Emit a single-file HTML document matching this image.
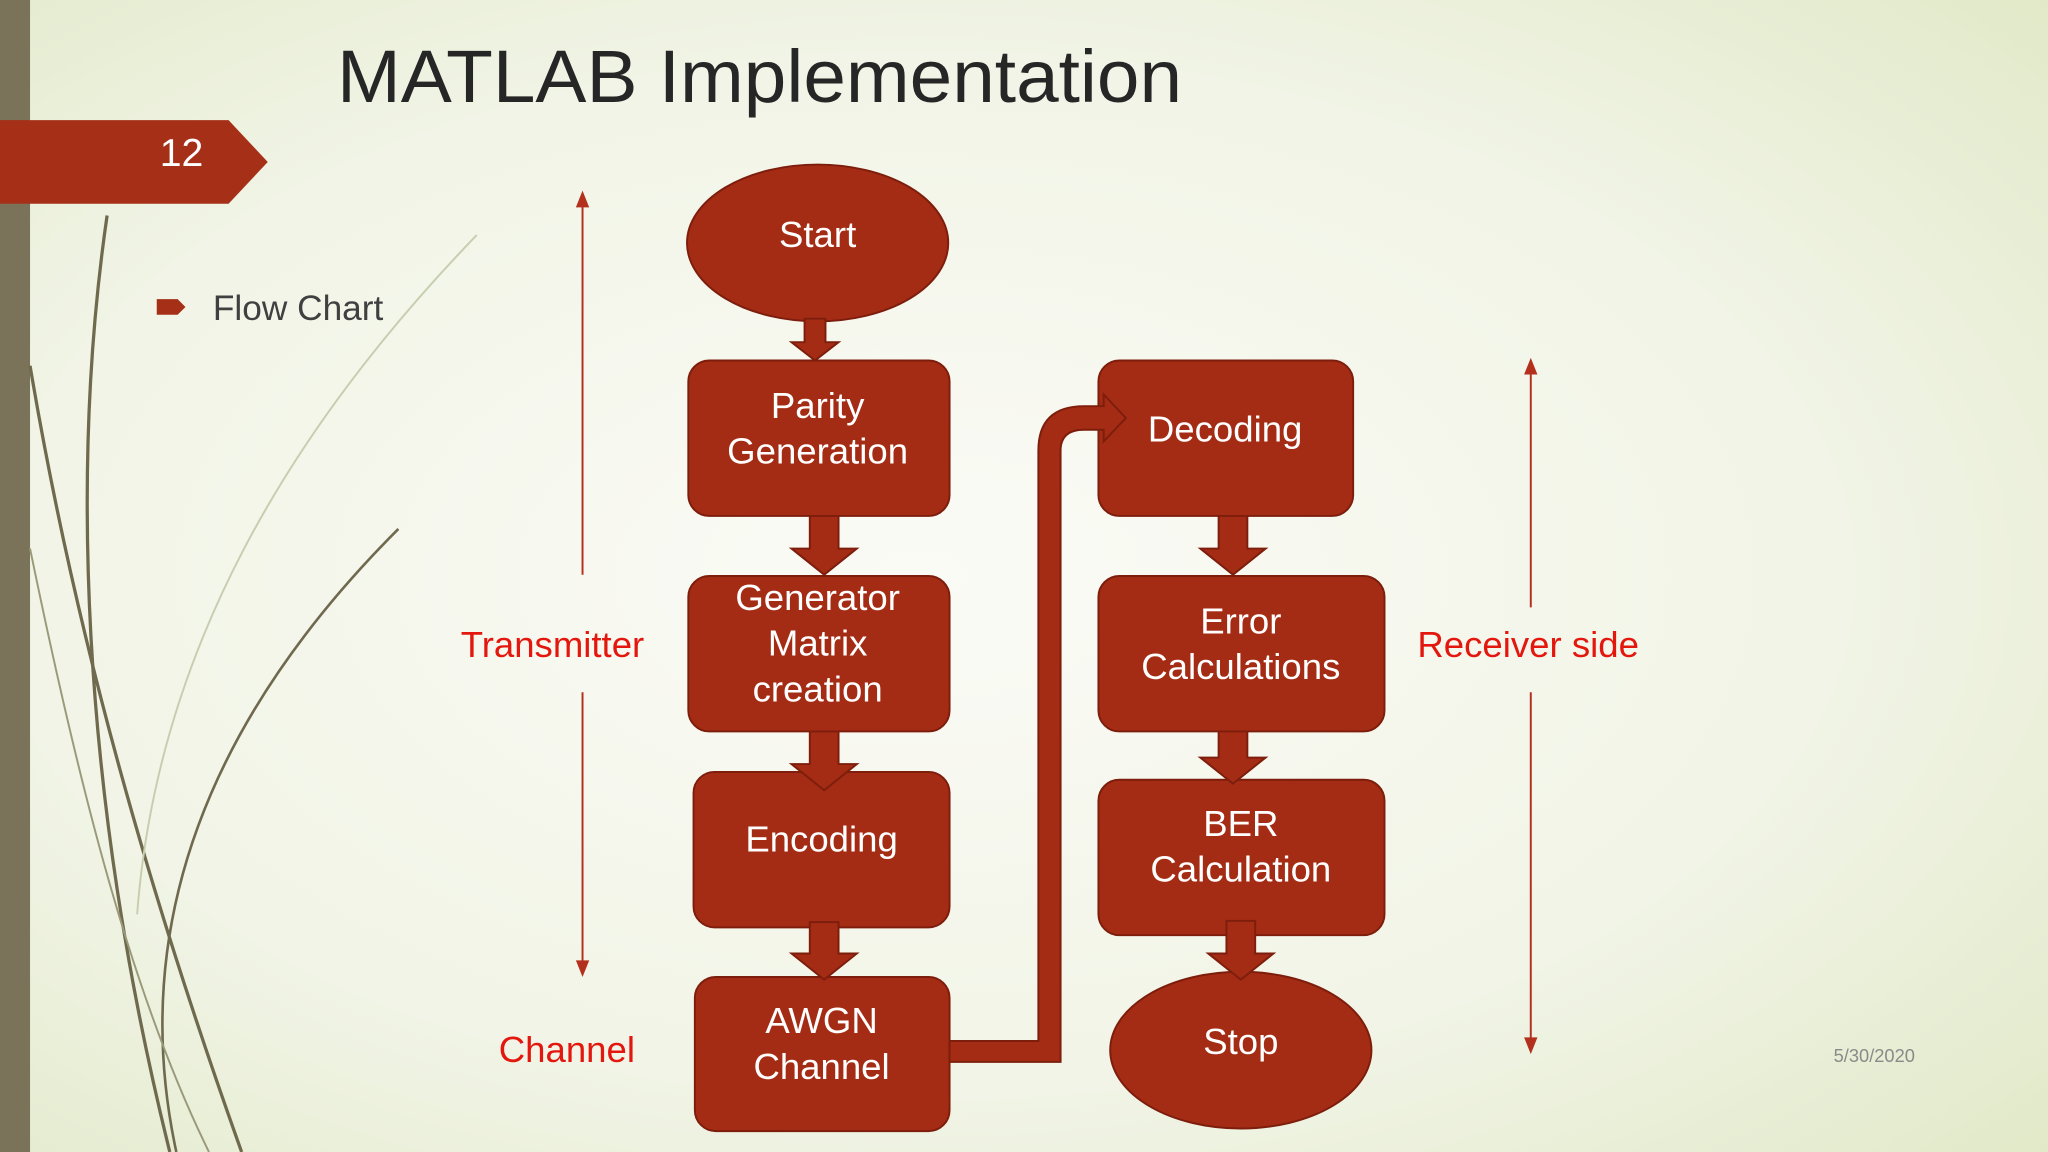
<!DOCTYPE html>
<html><head><meta charset="utf-8"><style>
html,body{margin:0;padding:0;width:2048px;height:1152px;overflow:hidden}
</style></head><body>
<svg width="2048" height="1152" viewBox="0 0 1568 882" xmlns="http://www.w3.org/2000/svg" font-family="'Liberation Sans','DejaVu Sans',sans-serif">
<defs>
<radialGradient id="bg" cx="0.45" cy="0.5" r="0.75">
<stop offset="0" stop-color="#fbfbf6"/><stop offset="0.6" stop-color="#f1f4e6"/><stop offset="1" stop-color="#e1e9c8"/>
</radialGradient>
</defs>
<rect width="1568" height="882" fill="url(#bg)"/>
<rect x="0" y="0" width="23" height="882" fill="#7b7359"/>
<g fill="none" stroke="#6f6a4e" stroke-width="2.5">
<path d="M82 165 C55 350 60 600 130 882"/>
<path d="M23 280 C60 500 120 700 185 882"/>
<path d="M305 405 C150 560 100 720 135 882" stroke-width="2"/>
<path d="M23 420 C60 600 100 760 160 882" stroke="#9a9a7a" stroke-width="1.5"/>
<path d="M365 180 C220 330 120 500 105 700" stroke="#c9cdb0" stroke-width="1.5"/>
</g>
<polygon points="0,92 175,92 205,124 175,156 0,156" fill="#a52f17"/>
<text x="139" y="127" fill="#fff" font-size="30" text-anchor="middle">12</text>
<text x="258" y="78" fill="#262626" font-size="57" textLength="647" lengthAdjust="spacingAndGlyphs">MATLAB Implementation</text>
<polygon points="120,229 136,229 142,235 136,241 120,241" fill="#a52f17"/>
<text x="163" y="245" fill="#404040" font-size="27">Flow Chart</text>
<g stroke="#b3301c" stroke-width="1.5" fill="#b3301c">
<line x1="446" y1="156" x2="446" y2="440"/><polygon points="442,158 446,148 450,158"/>
<line x1="446" y1="530" x2="446" y2="738"/><polygon points="442,736 446,746 450,736"/>
<line x1="1172" y1="284" x2="1172" y2="465"/><polygon points="1168,286 1172,276 1176,286"/>
<line x1="1172" y1="530" x2="1172" y2="797"/><polygon points="1168,795 1172,805 1176,795"/>
</g>
<g fill="#e3170d" font-size="28" text-anchor="middle">
<text x="423" y="503">Transmitter</text>
<text x="434" y="813">Channel</text>
<text x="1170" y="503">Receiver side</text>
</g>
<text x="1435" y="813" fill="#8a8a8a" font-size="14" text-anchor="middle">5/30/2020</text>
<g fill="#a52c14" stroke="#7d1d0c" stroke-width="1.5">
<ellipse cx="626" cy="186" rx="100" ry="60"/>
<rect x="527" y="276" width="200" height="119" rx="16"/>
<rect x="527" y="441" width="200" height="119" rx="16"/>
<rect x="531" y="591" width="196" height="119" rx="16"/>
<rect x="532" y="748" width="195" height="118" rx="16"/>
<rect x="841" y="276" width="195" height="119" rx="16"/>
<rect x="841" y="441" width="219" height="119" rx="16"/>
<rect x="841" y="597" width="219" height="119" rx="16"/>
<ellipse cx="950" cy="804" rx="100" ry="60"/>
<path d="M727 797 H795 V345 Q795 311 830 311 H845 V302 L862 320 L845 338 V329 H830 Q812 329 812 345 V813 H727 Z"/>
<polygon points="616,244 632,244 632,262 642,262 624,276 606,262 616,262"/>
<polygon points="620,395 642,395 642,420 656,420 631,440 606,420 620,420"/>
<polygon points="620,560 642,560 642,585 656,585 631,605 606,585 620,585"/>
<polygon points="620,706 642,706 642,730 656,730 631,750 606,730 620,730"/>
<polygon points="933,395 955,395 955,420 969,420 944,440 919,420 933,420"/>
<polygon points="933,560 955,560 955,580 969,580 944,600 919,580 933,580"/>
<polygon points="939,705 961,705 961,730 975,730 950,750 925,730 939,730"/>
</g>
<g fill="#fff" font-size="28" text-anchor="middle">
<text x="626" y="189">Start</text>
<text x="626" y="320">Parity</text><text x="626" y="355">Generation</text>
<text x="626" y="467">Generator</text><text x="626" y="502">Matrix</text><text x="626" y="537">creation</text>
<text x="629" y="652">Encoding</text>
<text x="629" y="791">AWGN</text><text x="629" y="826">Channel</text>
<text x="938" y="338">Decoding</text>
<text x="950" y="485">Error</text><text x="950" y="520">Calculations</text>
<text x="950" y="640">BER</text><text x="950" y="675">Calculation</text>
<text x="950" y="807">Stop</text>
</g>
</svg>
</body></html>
